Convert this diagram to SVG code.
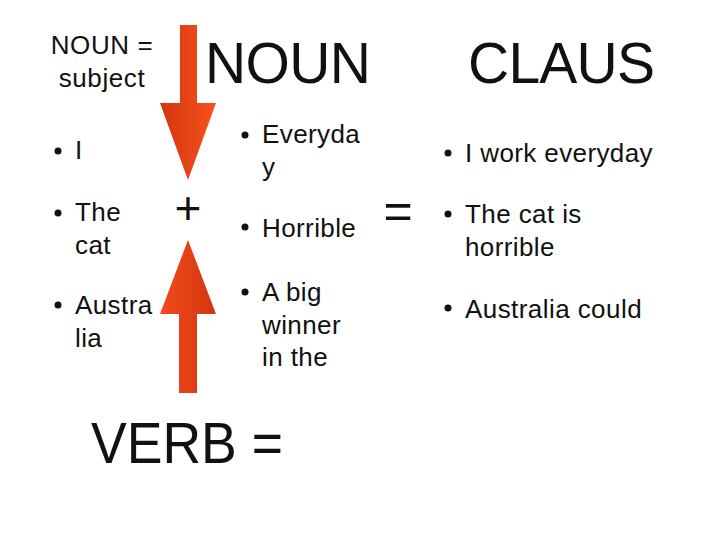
<svg xmlns="http://www.w3.org/2000/svg" width="728" height="546" viewBox="0 0 728 546">
<defs>
<linearGradient id="gDown" x1="0" y1="0" x2="1" y2="0">
<stop offset="0" stop-color="#d3360e"/>
<stop offset="1" stop-color="#f6521d"/>
</linearGradient>
<linearGradient id="gUp" x1="0" y1="0" x2="1" y2="0">
<stop offset="0" stop-color="#f24b1a"/>
<stop offset="1" stop-color="#d2360f"/>
</linearGradient>
<style>
text{font-family:"Liberation Sans","Helvetica Neue",Arial,sans-serif;fill:#111;}
.big{font-size:57px;}
.med{font-size:26px;letter-spacing:0.6px;}
.b{font-size:26px;letter-spacing:0.4px;}
circle.dot{fill:#111;}
</style>
</defs>
<rect width="728" height="546" fill="#fff"/>

<g id="noun-subject">
<text class="med" x="102" y="54" text-anchor="middle">NOUN =</text>
<text class="med" x="102" y="87" text-anchor="middle">subject</text>
</g>
<g id="noun-title"><text class="big" x="205" y="83" textLength="166">NOUN</text></g>
<g id="claus-title"><text class="big" x="468" y="83" textLength="187">CLAUS</text></g>
<g id="verb"><text class="big" x="91" y="463" textLength="192" lengthAdjust="spacingAndGlyphs">VERB =</text></g>

<g id="col-subjects">
<circle class="dot" cx="58" cy="151" r="3.5"/>
<text class="b" x="75" y="159">I</text>
<circle class="dot" cx="58" cy="213" r="3.5"/>
<text class="b" x="75" y="221">The</text>
<text class="b" x="75" y="254">cat</text>
<circle class="dot" cx="58" cy="305" r="3.5"/>
<text class="b" x="75" y="314">Austra</text>
<text class="b" x="75" y="347">lia</text>
</g>

<g id="plus"><text x="188" y="224" font-size="46" text-anchor="middle">+</text></g>

<g id="col-verbs">
<circle class="dot" cx="245" cy="135" r="3.5"/>
<text class="b" x="262" y="143">Everyda</text>
<text class="b" x="262" y="176">y</text>
<circle class="dot" cx="245" cy="227" r="3.5"/>
<text class="b" x="262" y="237">Horrible</text>
<circle class="dot" cx="245" cy="292" r="3.5"/>
<text class="b" x="262" y="301">A big</text>
<text class="b" x="262" y="334">winner</text>
<text class="b" x="262" y="366">in the</text>
</g>

<g id="equals"><text x="398" y="228" font-size="50" text-anchor="middle">=</text></g>

<g id="col-clauses">
<circle class="dot" cx="448" cy="153" r="3.5"/>
<text class="b" x="465" y="162" textLength="188">I work everyday</text>
<circle class="dot" cx="448" cy="214" r="3.5"/>
<text class="b" x="465" y="223">The cat is</text>
<text class="b" x="465" y="256">horrible</text>
<circle class="dot" cx="448" cy="308" r="3.5"/>
<text class="b" x="465" y="318" textLength="177">Australia could</text>
</g>

<g id="connectors">
<polygon fill="url(#gDown)" points="180,25 197,25 197,103 216,103 188,180 160,103 180,103"/>
<polygon fill="url(#gUp)" points="188,240 216,314 197,314 197,393 179,393 179,314 160,314"/>
</g>
</svg>
